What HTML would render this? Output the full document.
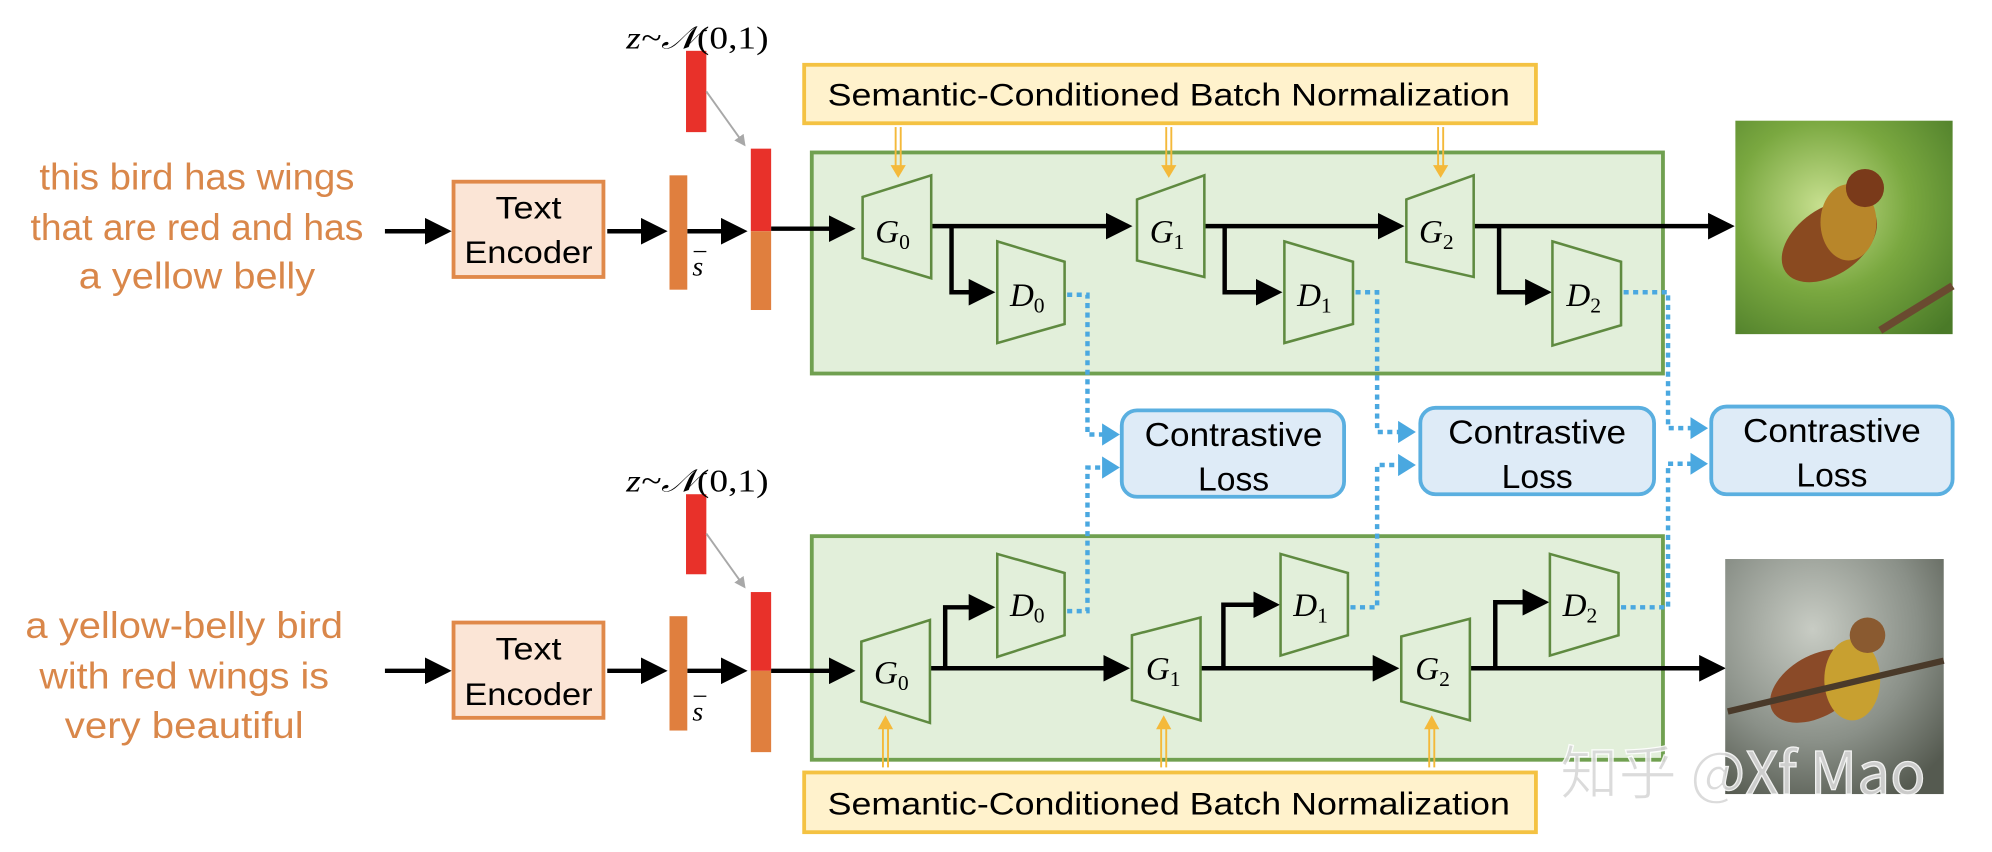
<!DOCTYPE html>
<html><head><meta charset="utf-8"><style>
html,body{margin:0;padding:0;background:#fff;}
svg{display:block;}
.cal{font-family:"Liberation Sans",sans-serif;}
.mt{font-family:"Liberation Serif",serif;font-style:italic;}
</style></head><body>
<svg width="1992" height="852" viewBox="0 0 1568 670.6" preserveAspectRatio="none" xmlns="http://www.w3.org/2000/svg">
<defs>
<marker id="ah" markerWidth="6" markerHeight="6" refX="5" refY="3" orient="auto" markerUnits="strokeWidth"><path d="M0,0 L6,3 L0,6 z" fill="#000"/></marker>
<marker id="ab" markerWidth="4" markerHeight="5" refX="3" refY="2.5" orient="auto" markerUnits="strokeWidth"><path d="M0,0 L4,2.5 L0,5 z" fill="#4aa8e0"/></marker>
<marker id="ag" markerWidth="6" markerHeight="6" refX="5" refY="3" orient="auto" markerUnits="strokeWidth"><path d="M0,0 L6,3 L0,6 z" fill="#a8a8a8"/></marker>
<radialGradient id="bg1" cx="0.4" cy="0.4" r="0.8"><stop offset="0" stop-color="#c8e090"/><stop offset="0.5" stop-color="#7aa840"/><stop offset="1" stop-color="#4a7a28"/></radialGradient>
<radialGradient id="bg2" cx="0.4" cy="0.3" r="0.8"><stop offset="0" stop-color="#c8ccc4"/><stop offset="0.6" stop-color="#8a9088"/><stop offset="1" stop-color="#555a50"/></radialGradient>
</defs>

<g class="cal" fill="#d9874a" font-size="29" text-anchor="middle">
<text x="155" y="149" textLength="248" lengthAdjust="spacingAndGlyphs">this bird has wings</text>
<text x="155" y="189" textLength="262" lengthAdjust="spacingAndGlyphs">that are red and has</text>
<text x="155" y="227" textLength="186" lengthAdjust="spacingAndGlyphs">a yellow belly</text>
<text x="145" y="502" textLength="250" lengthAdjust="spacingAndGlyphs">a yellow-belly bird</text>
<text x="145" y="542" textLength="228" lengthAdjust="spacingAndGlyphs">with red wings is</text>
<text x="145" y="581" textLength="188" lengthAdjust="spacingAndGlyphs">very beautiful</text>
</g>

<g stroke="#000" stroke-width="3.5" fill="none" marker-end="url(#ah)">
<line x1="303" y1="182" x2="352" y2="182"/>
<line x1="478" y1="182" x2="522" y2="182"/>
<line x1="541" y1="182" x2="585" y2="182"/>
<line x1="303" y1="528" x2="352" y2="528"/>
<line x1="478" y1="528" x2="522" y2="528"/>
<line x1="541" y1="528" x2="585" y2="528"/>
</g>

<g class="cal">
<rect x="357" y="143" width="118" height="75" fill="#fbe5d6" stroke="#e0894a" stroke-width="3"/>
<text x="416" y="172" font-size="25" text-anchor="middle" textLength="52" lengthAdjust="spacingAndGlyphs">Text</text>
<text x="416" y="207" font-size="25" text-anchor="middle" textLength="101" lengthAdjust="spacingAndGlyphs">Encoder</text>
<rect x="357" y="490" width="118" height="75" fill="#fbe5d6" stroke="#e0894a" stroke-width="3"/>
<text x="416" y="519" font-size="25" text-anchor="middle" textLength="52" lengthAdjust="spacingAndGlyphs">Text</text>
<text x="416" y="555" font-size="25" text-anchor="middle" textLength="101" lengthAdjust="spacingAndGlyphs">Encoder</text>
</g>

<rect x="527" y="138" width="14" height="90" fill="#e07f3e"/>
<rect x="591" y="117" width="16" height="65" fill="#e8312a"/>
<rect x="591" y="182" width="16" height="62" fill="#e07f3e"/>
<rect x="540" y="40" width="16" height="64" fill="#e8312a"/>
<line x1="556" y1="72" x2="586" y2="114" stroke="#a8a8a8" stroke-width="1.5" marker-end="url(#ag)"/>
<text class="mt" x="545" y="217" font-size="22">s</text><line x1="546" y1="198" x2="556" y2="198" stroke="#000" stroke-width="1"/>
<text class="mt" x="493" y="38" font-size="25" textLength="112" lengthAdjust="spacingAndGlyphs">z~𝒩<tspan font-style="normal">(0,1)</tspan></text>

<rect x="527" y="485" width="14" height="90" fill="#e07f3e"/>
<rect x="591" y="466" width="16" height="62" fill="#e8312a"/>
<rect x="591" y="528" width="16" height="64" fill="#e07f3e"/>
<rect x="540" y="389" width="16" height="63" fill="#e8312a"/>
<line x1="556" y1="420" x2="586" y2="462" stroke="#a8a8a8" stroke-width="1.5" marker-end="url(#ag)"/>
<text class="mt" x="545" y="567" font-size="22">s</text><line x1="546" y1="548" x2="556" y2="548" stroke="#000" stroke-width="1"/>
<text class="mt" x="493" y="387" font-size="25" textLength="112" lengthAdjust="spacingAndGlyphs">z~𝒩<tspan font-style="normal">(0,1)</tspan></text>

<rect x="639" y="120" width="670" height="174" fill="#e2efda" stroke="#70a050" stroke-width="3"/>
<rect x="639" y="422" width="670" height="176" fill="#e2efda" stroke="#70a050" stroke-width="3"/>

<g stroke="#000" stroke-width="3.5" fill="none" marker-end="url(#ah)">
<line x1="607" y1="180" x2="670" y2="180"/>
<line x1="733" y1="178" x2="888" y2="178"/>
<line x1="948" y1="178" x2="1102" y2="178"/>
<line x1="1160" y1="178" x2="1362" y2="178"/>
<polyline points="749,178 749,230 780,230"/>
<polyline points="964,178 964,230 1006,230"/>
<polyline points="1180,178 1180,230 1218,230"/>
<line x1="607" y1="528" x2="670" y2="528"/>
<line x1="732" y1="526" x2="886" y2="526"/>
<line x1="945" y1="526" x2="1098" y2="526"/>
<line x1="1157" y1="526" x2="1355" y2="526"/>
<polyline points="744,526 744,478 780,478"/>
<polyline points="963,526 963,476 1004,476"/>
<polyline points="1177,526 1177,474 1216,474"/>
</g>

<g fill="#e2efda" stroke="#5f8a40" stroke-width="2">
<polygon points="679,155 733,138 733,219 679,203"/>
<polygon points="895,157 948,138 948,218 895,205"/>
<polygon points="1107,157 1160,138 1160,218 1107,206"/>
<polygon points="785,190 838,206 838,255 785,270"/>
<polygon points="1011,190 1065,206 1065,255 1011,270"/>
<polygon points="1222,190 1276,206 1276,256 1222,272"/>
<polygon points="678,505 732,488 732,569 678,552"/>
<polygon points="891,500 945,486 945,567 891,551"/>
<polygon points="1103,501 1157,487 1157,567 1103,552"/>
<polygon points="785,436 838,451 838,500 785,517"/>
<polygon points="1008,436 1061,451 1061,500 1008,516"/>
<polygon points="1220,436 1274,451 1274,500 1220,516"/>
</g>
<g class="mt" font-size="26">
<text x="689" y="191">G<tspan font-size="17" font-style="normal" dy="5">0</tspan></text>
<text x="905" y="191">G<tspan font-size="17" font-style="normal" dy="5">1</tspan></text>
<text x="1117" y="191">G<tspan font-size="17" font-style="normal" dy="5">2</tspan></text>
<text x="795" y="241">D<tspan font-size="17" font-style="normal" dy="5">0</tspan></text>
<text x="1021" y="241">D<tspan font-size="17" font-style="normal" dy="5">1</tspan></text>
<text x="1233" y="241">D<tspan font-size="17" font-style="normal" dy="5">2</tspan></text>
<text x="688" y="538">G<tspan font-size="17" font-style="normal" dy="5">0</tspan></text>
<text x="902" y="535">G<tspan font-size="17" font-style="normal" dy="5">1</tspan></text>
<text x="1114" y="535">G<tspan font-size="17" font-style="normal" dy="5">2</tspan></text>
<text x="795" y="485">D<tspan font-size="17" font-style="normal" dy="5">0</tspan></text>
<text x="1018" y="485">D<tspan font-size="17" font-style="normal" dy="5">1</tspan></text>
<text x="1230" y="485">D<tspan font-size="17" font-style="normal" dy="5">2</tspan></text>
</g>

<g class="cal">
<rect x="633" y="51" width="576" height="46" fill="#fff2cc" stroke="#f4c242" stroke-width="3"/>
<text x="920" y="83" font-size="25" text-anchor="middle" textLength="537" lengthAdjust="spacingAndGlyphs">Semantic-Conditioned Batch Normalization</text>
<rect x="633" y="608" width="576" height="47" fill="#fff2cc" stroke="#f4c242" stroke-width="3"/>
<text x="920" y="641" font-size="25" text-anchor="middle" textLength="537" lengthAdjust="spacingAndGlyphs">Semantic-Conditioned Batch Normalization</text>
</g>
<g stroke="#f4b93a" stroke-width="1.5">
<line x1="705" y1="100" x2="705" y2="132"/><line x1="709" y1="100" x2="709" y2="132"/>
<line x1="918" y1="100" x2="918" y2="132"/><line x1="922" y1="100" x2="922" y2="132"/>
<line x1="1132" y1="100" x2="1132" y2="132"/><line x1="1136" y1="100" x2="1136" y2="132"/>
<line x1="695" y1="604" x2="695" y2="572"/><line x1="699" y1="604" x2="699" y2="572"/>
<line x1="914" y1="604" x2="914" y2="572"/><line x1="918" y1="604" x2="918" y2="572"/>
<line x1="1125" y1="604" x2="1125" y2="572"/><line x1="1129" y1="604" x2="1129" y2="572"/>
</g>
<g fill="#f4b93a">
<polygon points="701,130 713,130 707,140"/><polygon points="914,130 926,130 920,140"/><polygon points="1128,130 1140,130 1134,140"/>
<polygon points="691,574 703,574 697,563"/><polygon points="910,574 922,574 916,563"/><polygon points="1121,574 1133,574 1127,563"/>
</g>

<g class="cal" font-size="26" text-anchor="middle">
<rect x="883" y="323" width="175" height="68" rx="12" fill="#deebf7" stroke="#5aafe0" stroke-width="3"/>
<text x="971" y="351" textLength="140" lengthAdjust="spacingAndGlyphs">Contrastive</text><text x="971" y="386" textLength="56" lengthAdjust="spacingAndGlyphs">Loss</text>
<rect x="1118" y="321" width="184" height="68" rx="12" fill="#deebf7" stroke="#5aafe0" stroke-width="3"/>
<text x="1210" y="349" textLength="140" lengthAdjust="spacingAndGlyphs">Contrastive</text><text x="1210" y="384" textLength="56" lengthAdjust="spacingAndGlyphs">Loss</text>
<rect x="1347" y="320" width="190" height="69" rx="12" fill="#deebf7" stroke="#5aafe0" stroke-width="3"/>
<text x="1442" y="348" textLength="140" lengthAdjust="spacingAndGlyphs">Contrastive</text><text x="1442" y="383" textLength="56" lengthAdjust="spacingAndGlyphs">Loss</text>
</g>
<g stroke="#4aa8e0" stroke-width="3.5" stroke-dasharray="4 3.5" fill="none" marker-end="url(#ab)">
<polyline points="840,232 856,232 856,342 878,342"/>
<polyline points="1067,230 1084,230 1084,340 1111,340"/>
<polyline points="1278,230 1313,230 1313,337 1341,337"/>
<polyline points="840,481 856,481 856,368 878,368"/>
<polyline points="1063,478 1084,478 1084,366 1111,366"/>
<polyline points="1276,478 1313,478 1313,365 1341,365"/>
</g>

<rect x="1366" y="95" width="171" height="168" fill="url(#bg1)"/>
<ellipse cx="1440" cy="190" rx="42" ry="26" transform="rotate(-35 1440 190)" fill="#8a4a20"/>
<ellipse cx="1455" cy="175" rx="22" ry="30" fill="#b8862a"/>
<circle cx="1468" cy="148" r="15" fill="#7a3a1a"/>
<line x1="1480" y1="260" x2="1537" y2="225" stroke="#6a4a30" stroke-width="6"/>
<rect x="1358" y="440" width="172" height="185" fill="url(#bg2)"/>
<ellipse cx="1430" cy="540" rx="40" ry="24" transform="rotate(-30 1430 540)" fill="#8a4a28"/>
<ellipse cx="1458" cy="535" rx="22" ry="32" fill="#c8a030"/>
<circle cx="1470" cy="500" r="14" fill="#8a5a30"/>
<line x1="1360" y1="560" x2="1530" y2="520" stroke="#4a3a2a" stroke-width="5"/>
<text x="1228" y="625" font-family="'Noto Sans CJK SC','Liberation Sans',sans-serif" font-size="46" fill="#d8d8d8" stroke="#ffffff" stroke-width="1" opacity="0.9">知乎 @Xf Mao</text>
</svg>
</body></html>
